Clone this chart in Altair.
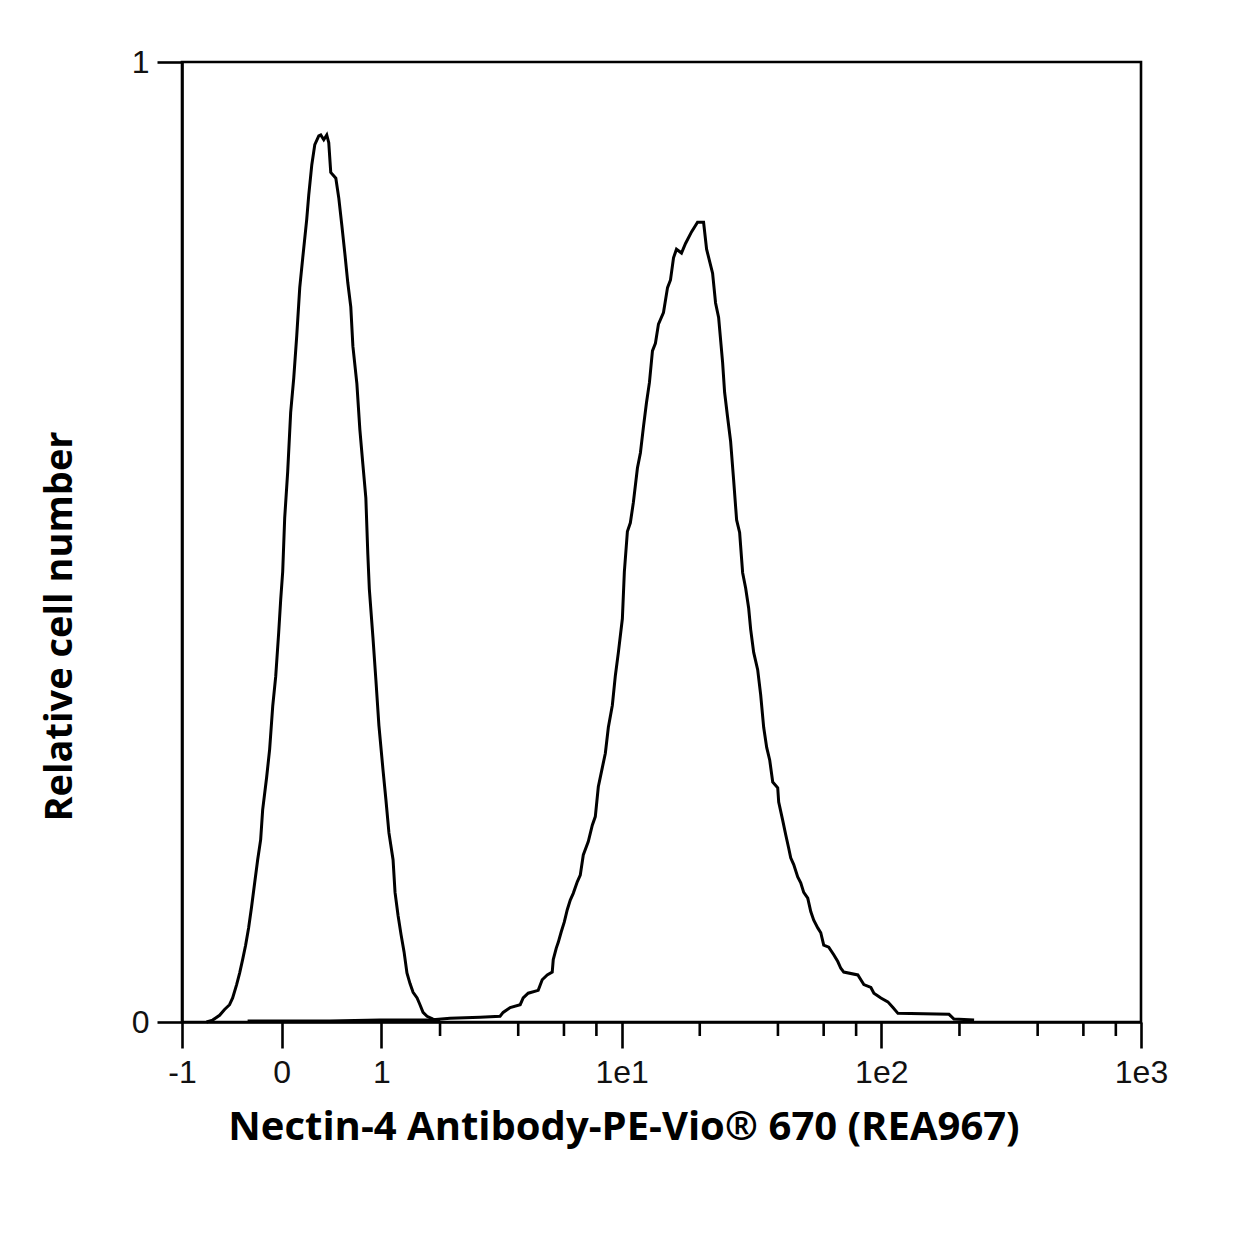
import math
import altair as alt
import pandas as pd

# ---------------- data (fluorescence intensity, relative cell number) ----------------
ctrl_x = [-0.754, -0.693, -0.623, -0.573, -0.523, -0.492, -0.452, -0.422, -0.392, -0.362,
          -0.332, -0.302, -0.271, -0.241, -0.211, -0.191, -0.151, -0.121, -0.090, -0.060,
          -0.030, -0.010, 0.010, 0.030, 0.060, 0.090, 0.121, 0.151, 0.181, 0.211,
          0.251, 0.271, 0.302, 0.332, 0.372, 0.392, 0.422, 0.452, 0.472, 0.492,
          0.543, 0.573, 0.603, 0.633, 0.663, 0.693, 0.714, 0.754, 0.784, 0.814,
          0.844, 0.864, 0.879, 0.915, 0.945, 0.975, 1.016, 1.047, 1.079, 1.125,
          1.148, 1.184, 1.221, 1.260, 1.299, 1.343, 1.390, 1.457, 1.511, 1.575,
          1.672, 1.841, 2.0]
ctrl_y = [0.000, 0.002, 0.007, 0.013, 0.018, 0.025, 0.039, 0.051, 0.065, 0.080,
          0.098, 0.120, 0.145, 0.169, 0.190, 0.221, 0.255, 0.284, 0.329, 0.360,
          0.406, 0.440, 0.469, 0.525, 0.573, 0.635, 0.671, 0.715, 0.765, 0.796,
          0.836, 0.861, 0.893, 0.914, 0.923, 0.924, 0.919, 0.924, 0.916, 0.885,
          0.879, 0.858, 0.830, 0.801, 0.770, 0.745, 0.704, 0.665, 0.617, 0.581,
          0.546, 0.487, 0.451, 0.401, 0.356, 0.309, 0.263, 0.231, 0.197, 0.169,
          0.135, 0.111, 0.091, 0.073, 0.051, 0.040, 0.031, 0.025, 0.018, 0.010,
          0.006, 0.003, 0.001]

stain_x = [-0.342, 0.080, 0.482, 0.985, 1.754, 2.185, 2.853, 3.406, 3.499, 3.724,
           4.071, 4.180, 4.370, 4.775, 4.948, 5.173, 5.408, 5.457, 5.605, 5.705,
           5.858, 6.016, 6.179, 6.346, 6.516, 6.753, 6.934, 7.122, 7.445, 7.714,
           7.923, 8.137, 8.431, 8.660, 8.895, 9.215, 9.465, 9.721, 10.07, 10.25,
           10.53, 10.81, 11.10, 11.51, 11.82, 12.14, 12.47, 12.80, 13.15, 13.50,
           13.87, 14.50, 15.03, 15.43, 15.85, 16.27, 17.01, 17.63, 18.59, 19.61,
           20.69, 21.25, 22.41, 23.01, 23.64, 24.49, 24.93, 25.60, 26.29, 27.00,
           27.73, 28.48, 29.25, 30.04, 30.86, 31.41, 32.26, 33.42, 34.32, 35.25,
           36.20, 37.18, 38.19, 39.92, 40.27, 41.73, 42.86, 44.01, 44.80, 46.01,
           47.67, 48.96, 50.28, 52.10, 53.51, 54.95, 56.94, 58.48, 60.03, 62.76,
           65.61, 68.00, 69.84, 71.72, 81.23, 83.42, 85.68, 91.19, 93.66, 99.66,
           106.0, 110.9, 115.9, 182.3, 190.5, 227.7]
stain_y = [0.001, 0.001, 0.001, 0.002, 0.002, 0.004, 0.005, 0.006, 0.010, 0.015,
           0.018, 0.025, 0.030, 0.033, 0.044, 0.049, 0.052, 0.065, 0.077, 0.083,
           0.094, 0.104, 0.117, 0.127, 0.134, 0.146, 0.153, 0.174, 0.188, 0.205,
           0.214, 0.245, 0.265, 0.280, 0.307, 0.330, 0.361, 0.385, 0.420, 0.469,
           0.511, 0.520, 0.541, 0.577, 0.593, 0.620, 0.645, 0.666, 0.699, 0.707,
           0.727, 0.739, 0.765, 0.773, 0.796, 0.805, 0.801, 0.811, 0.823, 0.833,
           0.833, 0.805, 0.780, 0.749, 0.734, 0.687, 0.656, 0.630, 0.605, 0.565,
           0.523, 0.510, 0.468, 0.452, 0.431, 0.409, 0.385, 0.367, 0.341, 0.307,
           0.286, 0.273, 0.250, 0.244, 0.229, 0.210, 0.195, 0.181, 0.171, 0.164,
           0.151, 0.145, 0.135, 0.129, 0.115, 0.106, 0.098, 0.093, 0.080, 0.078,
           0.070, 0.063, 0.056, 0.052, 0.049, 0.044, 0.039, 0.036, 0.030, 0.025,
           0.021, 0.015, 0.009, 0.008, 0.003, 0.002]

major_ticks = [-1, 0, 1, 10, 100, 1000]
major_labels = ["-1", "0", "1", "1e1", "1e2", "1e3"]
minor_ticks = [2, 4, 6, 8, 20, 40, 60, 80, 200, 400, 600, 800]
y_ticks = [0, 1]

x_title = "Nectin-4 Antibody-PE-Vio® 670 (REA967)"
y_title = "Relative cell number"

# ---------------- hybrid linear / log display transform (flow-cytometry style) ----------------
A, B = 3.409, 2.605  # log branch: A + B*log10(v/10)


def display(v):
    if v <= 1:
        return float(v)
    L = A + B * math.log(v / 10) / math.log(10)
    if v >= 2:
        return L
    w = v - 1
    s = w * w * (3 - 2 * w)
    return (1 - s) * v + s * L


L_expr = f"({A} + {B}*log(datum.v/10)/LN10)"
S_expr = "(pow(datum.v-1,2)*(3-2*(datum.v-1)))"
disp_expr = (f"datum.v <= 1 ? datum.v : (datum.v >= 2 ? {L_expr} : "
             f"(1-{S_expr})*datum.v + {S_expr}*{L_expr})")

major_pos = [display(t) for t in major_ticks]
label_expr = ""
for p, lab in zip(major_pos, major_labels):
    label_expr += f"abs(datum.value - ({p!r})) < 1e-6 ? '{lab}' : "
label_expr += "''"

df = pd.concat([
    pd.DataFrame({"v": ctrl_x, "y": ctrl_y, "series": "control"}),
    pd.DataFrame({"v": stain_x, "y": stain_y, "series": "stained"}),
], ignore_index=True)
minor_df = pd.DataFrame({"v": minor_ticks})

W, H = 959, 960
LW = 2.6
CW = 3.0

x_scale = alt.Scale(domain=[display(-1), display(1000)], nice=False, zero=False)
y_scale = alt.Scale(domain=[0, 1], nice=False, zero=False)

x_axis = alt.Axis(
    values=major_pos, labelExpr=label_expr, grid=False,
    tickSize=26, tickWidth=LW, tickColor="black",
    domainWidth=LW, domainColor="black",
    labelFont="Liberation Sans", labelFontSize=32, labelColor="#111111",
    labelPadding=9, labelFlush=False, labelOverlap=False,
    title=x_title, titleFont="Open Sans", titleFontSize=40, titleFontWeight="bold",
    titleColor="black", titleX=441.5, titleY=117, titleAlign="center",
    titleBaseline="alphabetic",
)
y_axis = alt.Axis(
    values=y_ticks, format="d", grid=False,
    tickSize=25, tickWidth=LW, tickColor="black",
    domainWidth=LW, domainColor="black",
    labelFont="Liberation Sans", labelFontSize=32, labelColor="#111111",
    labelPadding=8,
    title=y_title, titleFont="Open Sans", titleFontSize=38, titleFontWeight="bold",
    titleColor="black", titleX=-111, titleY=564, titleAlign="center",
    titleBaseline="alphabetic", titleAngle=270,
)

curves = alt.Chart(df).transform_calculate(xd=disp_expr).mark_line(
    color="black", strokeWidth=CW, strokeJoin="miter"
).encode(
    x=alt.X("xd:Q", scale=x_scale, axis=x_axis),
    y=alt.Y("y:Q", scale=y_scale, axis=y_axis),
    detail="series:N",
)

minor = alt.Chart(minor_df).transform_calculate(xd=disp_expr).mark_rule(
    color="black", strokeWidth=LW
).encode(
    x=alt.X("xd:Q", scale=x_scale, axis=x_axis),
    y=alt.value(H),
    y2=alt.value(H + 14),
)

chart = alt.layer(curves, minor).properties(
    width=W, height=H,
    autosize=alt.AutoSizeParams(type="none"),
    padding={"left": 174, "top": 54, "right": 80, "bottom": 200},
    background="white",
).configure_view(stroke="black", strokeWidth=LW)

chart.save("out.html", embed_options={"renderer": "svg", "actions": False})
